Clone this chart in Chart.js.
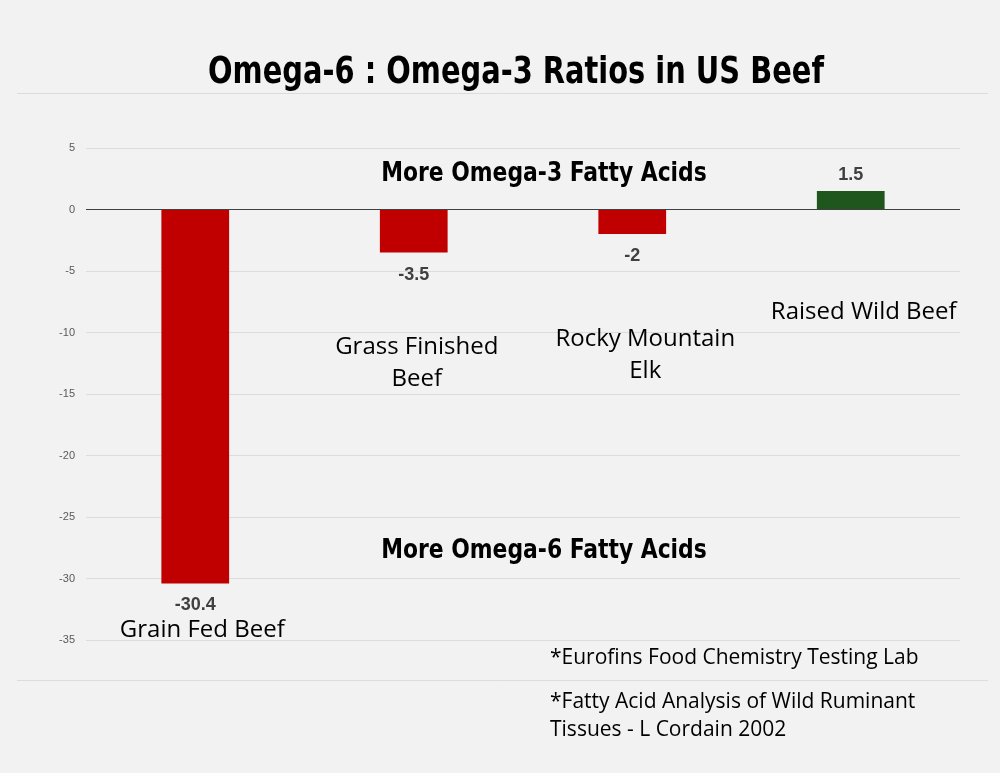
<!DOCTYPE html>
<html>
<head>
<meta charset="utf-8">
<script src="https://cdn.jsdelivr.net/npm/chart.js@4.4.1/dist/chart.umd.min.js"></script>
<style>
  html, body { margin: 0; padding: 0; background: #f2f2f2; }
  #wrap { width: 1000px; height: 773px; position: relative; }
</style>
</head>
<body>
<div id="wrap"><canvas id="chart"></canvas></div>
<script>
// data
const categories = [['Grain Fed Beef'], ['Grass Finished', 'Beef'], ['Rocky Mountain', 'Elk'], ['Raised Wild Beef']];
const ratios = [-30.4, -3.5, -2, 1.5];
const barColors = ['#c00000', '#c00000', '#c00000', '#1e561e'];
const yTicks = [5, 0, -5, -10, -15, -20, -25, -30, -35];
// where each category name sits, in axis units
const nameAt = [-34.1, -12.4, -11.8, -8.3];

const titleText = 'Omega-6 : Omega-3 Ratios in US Beef';
const notes = ['*Eurofins Food Chemistry Testing Lab', '*Fatty Acid Analysis of Wild Ruminant', 'Tissues - L Cordain 2002'];

const condensed = '"DejaVu Sans Condensed", "DejaVu Sans", sans-serif';

// squeezed text, since there is no narrow bold font here
function narrowText(ctx, text, x, y, sx) {
  ctx.save();
  ctx.translate(x, y);
  ctx.scale(sx, 1);
  ctx.fillText(text, 0, 0);
  ctx.restore();
}

// draws title, notes, value labels and category names
const decorPlugin = {
  id: 'decor',
  beforeDraw(chart) {
    const ctx = chart.ctx;
    ctx.save();
    ctx.fillStyle = '#f2f2f2';
    ctx.fillRect(0, 0, chart.width, chart.height);
    ctx.strokeStyle = '#dcdcdc';
    ctx.lineWidth = 1;
    ctx.beginPath();
    ctx.moveTo(17, 93.5); ctx.lineTo(988, 93.5);
    ctx.moveTo(17, 680.5); ctx.lineTo(988, 680.5);
    ctx.stroke();
    ctx.restore();
  },
  afterDatasetsDraw(chart) {
    const ctx = chart.ctx;
    const x = chart.scales.x;
    const y = chart.scales.y;
    const bars = chart.getDatasetMeta(0).data;
    ctx.save();
    ctx.textAlign = 'center';
    ctx.textBaseline = 'middle';

    // title
    ctx.fillStyle = '#000';
    ctx.font = 'bold 38px ' + condensed;
    narrowText(ctx, titleText, 516, 73, 0.845);

    // region notes
    ctx.font = 'bold 27px ' + condensed;
    narrowText(ctx, 'More Omega-3 Fatty Acids', 544, y.getPixelForValue(2.9), 0.9);
    narrowText(ctx, 'More Omega-6 Fatty Acids', 544, y.getPixelForValue(-27.8), 0.9);

    // values
    ctx.fillStyle = '#404040';
    ctx.font = 'bold 18px "Liberation Sans", Arial, sans-serif';
    bars.forEach((bar, i) => {
      const v = ratios[i];
      const off = v < 0 ? 22 : -16;
      ctx.fillText(String(v), bar.x, bar.y + off);
    });

    // category names
    ctx.fillStyle = '#000';
    ctx.font = '24px "Open Sans", sans-serif';
    const shift = [7, 3, 13, 13];
    categories.forEach((lines, i) => {
      const cx = x.getPixelForValue(i) + shift[i];
      const cy = y.getPixelForValue(nameAt[i]) + 1;
      const h = 32;
      lines.forEach((ln, j) => {
        ctx.fillText(ln, cx, cy + (j - (lines.length - 1) / 2) * h);
      });
    });

    // sources
    ctx.textAlign = 'left';
    ctx.font = '21px "Open Sans", sans-serif';
    ctx.fillText(notes[0], 550, 658);
    ctx.fillText(notes[1], 550, 702);
    ctx.fillText(notes[2], 550, 730);
    ctx.restore();
  }
};

const ctx = document.getElementById('chart');
new Chart(ctx, {
  type: 'bar',
  data: {
    labels: categories.map(c => c.join(' ')),
    datasets: [{
      data: ratios,
      backgroundColor: barColors,
      barPercentage: 0.31,
      categoryPercentage: 1.0
    }]
  },
  options: {
    responsive: true,
    maintainAspectRatio: false,
    animation: false,
    layout: { padding: { left: 0, right: 40, top: 148, bottom: 133 } },
    plugins: {
      legend: { display: false },
      title: { display: false },
      tooltip: { enabled: false }
    },
    scales: {
      x: { display: false },
      y: {
        min: -35,
        max: 5,
        afterFit(scale) { scale.width = 86; },
        afterBuildTicks(scale) { scale.ticks = yTicks.map(v => ({ value: v })); },
        border: { display: false },
        grid: {
          drawTicks: false,
          color: c => c.tick && c.tick.value === 0 ? '#404040' : '#dcdcdc',
          lineWidth: 1
        },
        ticks: {
          padding: 11,
          color: '#595959',
          font: { family: '"Liberation Sans", Arial, sans-serif', size: 11 }
        }
      }
    }
  },
  plugins: [decorPlugin]
});
</script>
</body>
</html>
